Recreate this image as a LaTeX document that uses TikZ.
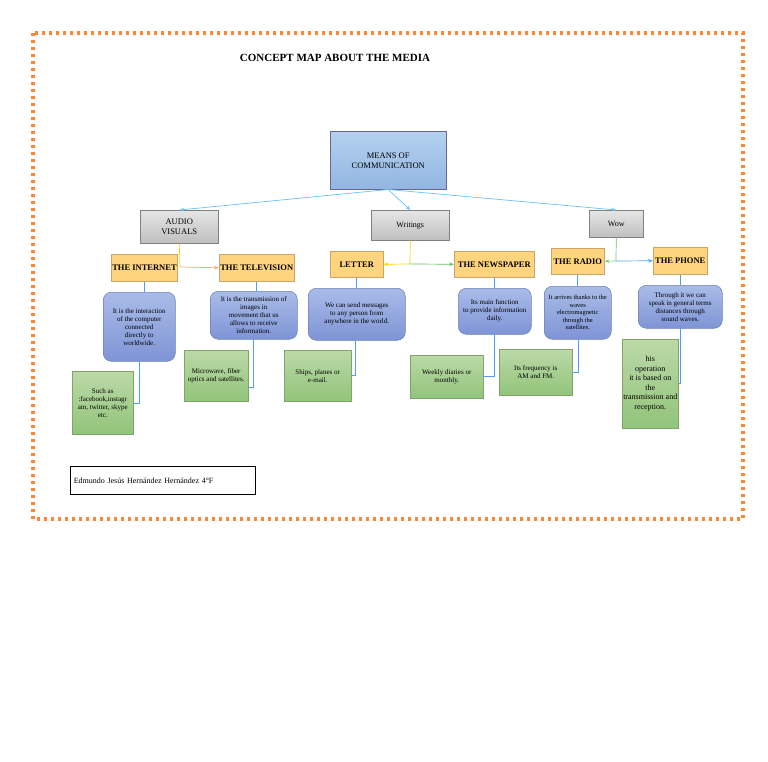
\documentclass[tikz,border=0pt]{standalone}
\usepackage{fontspec}
\setmainfont{Liberation Serif}
\usetikzlibrary{arrows.meta}
\definecolor{bt}{HTML}{A9BCE8}\definecolor{bb}{HTML}{7F94D6}\definecolor{bd}{HTML}{6E80B8}
\definecolor{mt}{HTML}{B4D0EE}\definecolor{mb}{HTML}{92B6E2}
\definecolor{gt}{HTML}{BBD9A8}\definecolor{gb}{HTML}{92C47A}\definecolor{gd}{HTML}{7FA56C}
\definecolor{ot}{HTML}{FFD47F}\definecolor{od}{HTML}{C9A56A}
\begin{document}
\begin{tikzpicture}[x=1pt,y=-1pt,
 box/.style={draw=#1,line width=0.5pt,anchor=north west,inner sep=1pt,align=center,font=\fontsize{8}{9}\selectfont},
 gray/.style={box=gray,top color=gray!20,bottom color=gray!50},
 orng/.style={box=od,fill=ot,font=\fontsize{8.5}{10}\selectfont\bfseries},
 blu/.style={box=bd,rounded corners=8pt,top color=bt,bottom color=bb,font=\fontsize{7}{8}\selectfont},
 grn/.style={box=gd,top color=gt,bottom color=gb,font=\fontsize{7}{8}\selectfont},
 ln/.style={draw=blue!55!cyan!70,line width=0.7pt},
 ar/.style={-{Stealth[length=5pt,open]},line width=0.7pt}]
\useasboundingbox (0,0) rectangle (768,762);
\draw[orange!80!red!80,line width=3.5pt,dash pattern=on 3pt off 4pt] (33,33) rectangle (743,519);
\node[font=\fontsize{11}{13}\selectfont\bfseries] (title) at (335,58) {CONCEPT MAP ABOUT THE MEDIA};
\node[box=gray!80!blue,top color=mt,bottom color=mb,minimum width=116pt,minimum height=58pt,font=\fontsize{8.5}{10}\selectfont] (mc) at (330,131) {MEANS OF\\COMMUNICATION};
\node[gray,minimum width=78pt,minimum height=33pt,font=\fontsize{8.5}{10}\selectfont] (av) at (140,210) {AUDIO\\VISUALS};
\node[gray,minimum width=78pt,minimum height=30pt] (wr) at (371,210) {Writings};
\node[gray,minimum width=54pt,minimum height=27pt] (wow) at (589,210) {Wow};
\foreach \t in {av,wr,wow} \draw[ar,draw=blue!40!cyan!60] (mc.south) -- (\t.north);
\node[orng,minimum width=54pt,minimum height=27pt] (int) at (111,254) {THE INTERNET};
\node[orng,minimum width=69pt,minimum height=27pt] (tv) at (219,254) {THE TELEVISION};
\node[orng,minimum width=53pt,minimum height=26pt] (let) at (330,251) {LETTER};
\node[orng,minimum width=80pt,minimum height=26pt] (np) at (454,251) {THE NEWSPAPER};
\node[orng,minimum width=53pt,minimum height=26pt] (rad) at (551,248) {THE RADIO};
\node[orng,minimum width=54pt,minimum height=27pt] (ph) at (653,247) {THE PHONE};
\coordinate (j1) at (180,267); \coordinate (j2) at (410,264); \coordinate (j3) at (616,261);
\draw[yellow!70!orange,line width=0.7pt] (av.south) -- (j1);
\draw[ar,draw=orange!60!red!50] (j1) -- (tv.west);
\draw[yellow!70!orange,line width=0.7pt] (wr.south) -- (j2);
\draw[ar,draw=yellow!70!orange] (j2) -- (let.east);
\draw[ar,draw=green!60!black!60] (j2) -- (np.west);
\draw[green!50!black!55,line width=0.7pt] (wow.south) -- (j3);
\draw[ar,draw=green!60!black!50] (j3) -- (rad.east);
\draw[ar,draw=blue!50!cyan!70] (j3) -- (ph.west);
\node[blu,minimum width=72pt,minimum height=69pt] (b1) at (103,292) {It is the interaction\\of the computer\\connected\\directly to\\worldwide.};
\node[blu,minimum width=87pt,minimum height=48pt] (b2) at (210,291) {It is the transmission of\\images in\\movement that us\\allows to receive\\information.};
\node[blu,minimum width=97pt,minimum height=52pt] (b3) at (308,288) {We can send messages\\to any person from\\anywhere in the world.};
\node[blu,minimum width=73pt,minimum height=46pt] (b4) at (458,288) {Its main function\\to provide information\\daily.};
\node[blu,minimum width=67pt,minimum height=53pt,font=\fontsize{6.5}{7.5}\selectfont] (b5) at (544,286) {It arrives thanks to the\\waves\\electromagnetic\\through the\\satellites.};
\node[blu,minimum width=84pt,minimum height=43pt] (b6) at (638,285) {Through it we can\\speak in general terms\\distances through\\sound waves.};
\node[grn,minimum width=61pt,minimum height=63pt] (g1) at (72,371) {Such as\\:facebook,instagr\\am, twitter, skype\\etc.};
\node[grn,minimum width=64pt,minimum height=51pt] (g2) at (184,350) {Microwave, fiber\\optics and satellites.};
\node[grn,minimum width=67pt,minimum height=51pt] (g3) at (284,350) {Ships, planes or\\e-mail.};
\node[grn,minimum width=73pt,minimum height=43pt] (g4) at (410,355) {Weekly diaries or\\monthly.};
\node[grn,minimum width=73pt,minimum height=46pt] (g5) at (499,349) {Its frequency is\\AM and FM.};
\node[grn,minimum width=53pt,minimum height=89pt,font=\fontsize{8}{9.5}\selectfont] (g6) at (622,339) {his\\operation\\it is based on\\the\\transmission and\\reception.};
\draw[ln] (int.south) -- (int.south |- b1.north);
\draw[ln] (tv.south) -- (tv.south |- b2.north);
\draw[ln] (let.south) -- (let.south |- b3.north);
\draw[ln] (np.south) -- (np.south |- b4.north);
\draw[ln] (rad.south) -- (rad.south |- b5.north);
\draw[ln] (ph.south) -- (ph.south |- b6.north);
\draw[ln] (139,361) |- (g1.east |- 0,403);
\draw[ln] (253,339) |- (g2.east |- 0,387);
\draw[ln] (355,340) |- (g3.east |- 0,375);
\draw[ln] (494,334) |- (g4.east |- 0,376);
\draw[ln] (578,339) |- (g5.east |- 0,372);
\draw[ln] (680,328) |- (g6.east |- 0,383);
\node[draw,line width=0.6pt,anchor=north west,minimum width=185pt,minimum height=28pt,font=\fontsize{8}{9.5}\selectfont,text width=178pt,align=left] (auth) at (70,466) {Edmundo Jesús Hernández Hernández 4°F};
\end{tikzpicture}
\end{document}
